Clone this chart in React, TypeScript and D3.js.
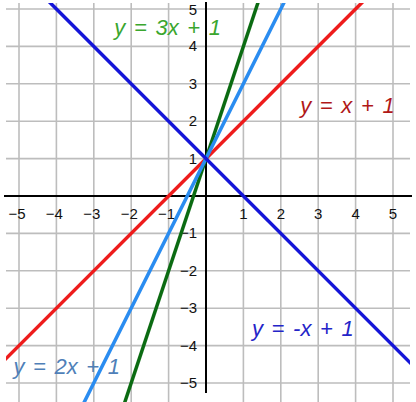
import React, { useEffect, useRef } from 'react';
import * as d3 from 'd3';

const ticks = [-5, -4, -3, -2, -1, 1, 2, 3, 4, 5];
const gridValues = [-5, -4, -3, -2, -1, 1, 2, 3, 4, 5];

// each line: slope, intercept
const lineSlopes = [1, 3, 2, -1];
const lineIntercepts = [1, 1, 1, 1];
const lineColors = ['#ee1c1c', '#0b6b12', '#2a8cf0', '#1515d8'];

const labelTexts = ['y = x + 1', 'y = 3x + 1', 'y = 2x + 1', 'y = -x + 1'];
const labelColors = ['#b01818', '#3aa62e', '#4f7fb8', '#2424c8'];
// label anchor in data units (left end x, baseline y)
const labelX = [2.52, -2.45, -5.15, 1.23];
const labelY = [2.22, 4.3, -4.75, -3.75];

const W = 416;
const H = 402;

export default function App() {
  const svgRef = useRef<SVGSVGElement>(null);

  useEffect(() => {
    if (!svgRef.current) return;
    const svg = d3.select(svgRef.current);
    svg.selectAll('*').remove();

    const x = d3.scaleLinear().domain([-5, 5]).range([19, 393]);
    const y = d3.scaleLinear().domain([-5, 5]).range([383, 9]);

    const left = 6, right = 410, top = 3, bottom = 402;

    svg.append('rect').attr('width', W).attr('height', H).attr('fill', '#ffffff');

    // grid
    const grid = svg.append('g').attr('stroke', '#bdbdbd').attr('stroke-width', 1.6);
    grid.selectAll('line.v')
      .data(gridValues)
      .join('line')
      .attr('x1', d => x(d)).attr('x2', d => x(d))
      .attr('y1', top).attr('y2', bottom);
    grid.selectAll('line.h')
      .data(gridValues)
      .join('line')
      .attr('class', 'h')
      .attr('y1', d => y(d)).attr('y2', d => y(d))
      .attr('x1', left).attr('x2', right);

    // axes
    svg.append('line')
      .attr('x1', 4).attr('x2', 412)
      .attr('y1', y(0)).attr('y2', y(0))
      .attr('stroke', '#000').attr('stroke-width', 2);
    svg.append('line')
      .attr('x1', x(0)).attr('x2', x(0))
      .attr('y1', 2).attr('y2', 393)
      .attr('stroke', '#000').attr('stroke-width', 2);

    // tick labels
    const tl = svg.append('g')
      .attr('font-family', 'Liberation Sans, Arial, sans-serif')
      .attr('font-size', 15)
      .attr('fill', '#111');
    tl.selectAll('text.x')
      .data(ticks)
      .join('text')
      .attr('class', 'x')
      .attr('x', d => x(d) + (d < 0 ? -2 : 0))
      .attr('y', y(0) + 23)
      .attr('text-anchor', 'middle')
      .text(d => (d < 0 ? '\u2212' + Math.abs(d) : String(d)));
    tl.selectAll('text.y')
      .data(ticks)
      .join('text')
      .attr('class', 'y')
      .attr('x', x(0) - 9)
      .attr('y', d => y(d) + 5 + (d === 5 ? 1 : 0))
      .attr('text-anchor', 'end')
      .text(d => (d < 0 ? '\u2212' + Math.abs(d) : String(d)));

    // lines, clipped to the grid area
    svg.append('clipPath').attr('id', 'clip')
      .append('rect')
      .attr('x', left).attr('y', top)
      .attr('width', right - left).attr('height', bottom - top);

    const xs = [-6, 6];
    const lineGen = d3.line<number[]>().x(d => x(d[0])).y(d => y(d[1]));
    const lg = svg.append('g').attr('clip-path', 'url(#clip)');
    lineSlopes.forEach((m, i) => {
      lg.append('path')
        .datum(xs.map(v => [v, m * v + lineIntercepts[i]]))
        .attr('fill', 'none')
        .attr('stroke', lineColors[i])
        .attr('stroke-width', 3.5)
        .attr('d', lineGen);
    });

    // equation labels
    svg.append('g')
      .selectAll('text')
      .data(labelTexts)
      .join('text')
      .attr('x', (_, i) => x(labelX[i]))
      .attr('y', (_, i) => y(labelY[i]))
      .attr('font-family', 'Liberation Sans, Arial, sans-serif')
      .attr('font-style', 'italic')
      .attr('font-size', 22)
      .attr('word-spacing', 2.5)
      .attr('fill', (_, i) => labelColors[i])
      .text(d => d);
  }, []);

  return (
    <svg
      ref={svgRef}
      width={W}
      height={H}
      style={{ position: 'absolute', left: 0, top: 0 }}
    />
  );
}
